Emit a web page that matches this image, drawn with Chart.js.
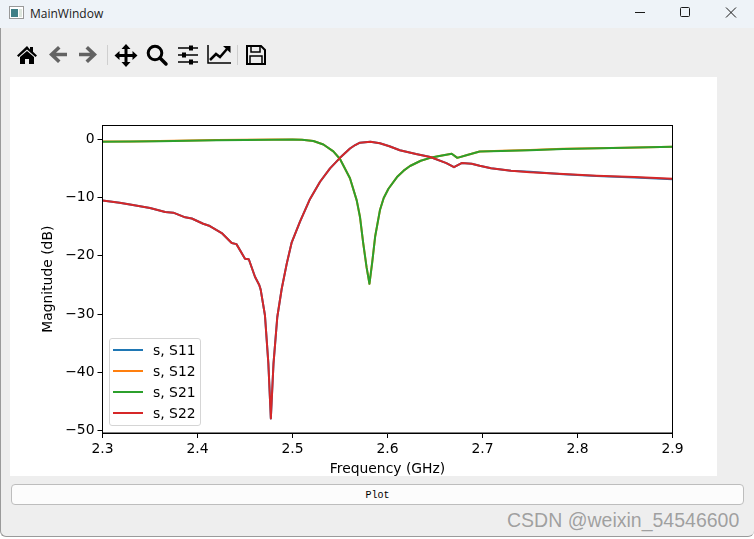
<!DOCTYPE html>
<html>
<head>
<meta charset="utf-8">
<title>MainWindow</title>
<script src="https://cdn.jsdelivr.net/npm/chart.js@4"></script>
<style>
html, body { margin: 0; padding: 0; background: #fff; width: 754px; height: 539px; overflow: hidden; }
#win { position: absolute; left: 0; top: 0; width: 754px; height: 537px; background: #eeeeee; border-left: 1px solid #9a9a9a; border-bottom: 1px solid #9a9a9a; border-radius: 0 0 6px 6px; box-sizing: border-box; }
#bar { position: absolute; left: 0; top: 0; width: 754px; height: 28px; background: #eef3f8; }
#title { position: absolute; left: 30px; top: 5px; font: 12px "Open Sans", sans-serif; color: #1a1a1a; }
#panel { position: absolute; left: 10px; top: 77px; width: 707px; height: 399px; background: #fff; }
#panel canvas { position: absolute; left: 0; top: 0; }
#legend { position: absolute; left: 109px; top: 338px; width: 92px; height: 88px; box-sizing: border-box; border: 1px solid #d5d5d5; border-radius: 3px; background: rgba(255,255,255,.8); font: 13.9px "DejaVu Sans", sans-serif; color: #000; }
#legend div { position: absolute; left: 43px; white-space: nowrap; line-height: 16px; }
#legend i { position: absolute; left: 3px; width: 30px; height: 2px; }
#plot { position: absolute; left: 11px; top: 484px; width: 733px; height: 21px; box-sizing: border-box; background: #fcfcfc; border: 1px solid #bdbdbd; border-radius: 4px; font: 10px "Liberation Mono", monospace; color: #000; text-align: center; line-height: 21px; }
#mark { position: absolute; left: 507px; top: 509px; font: 19.5px "Liberation Sans", sans-serif; color: rgba(125,125,125,.7); white-space: nowrap; }
svg { position: absolute; overflow: visible; }
</style>
</head>
<body>
<div id="win"></div>
<div id="bar"></div>
<svg style="left:9px;top:6px" width="16" height="13"><rect x=".5" y=".5" width="14" height="12" fill="#fff" stroke="#999"/><rect x="2" y="3" width="7" height="8" fill="#3f7f86"/><rect x="10" y="3" width="3" height="8" fill="#dde6dd"/></svg>
<div id="title">MainWindow</div>
<svg style="left:0;top:0" width="754" height="28" fill="none" stroke="#1a1a1a" stroke-width="1"><path d="M635 12.5h10"/><rect x="680.5" y="7.5" width="9" height="9" rx="1"/><path d="M726 7.5l10 10M736 7.5l-10 10"/></svg>

<!-- toolbar -->
<svg style="left:0;top:40px" width="280" height="30">
  <path d="M27 6L17 15.5l1.5 1.5L27 9.500l8.500 7.500 1.500-1.500-4-3.800V7h-3v2.400z" fill="#000"/>
  <path d="M20 17l7-6 7 6v7h-5v-5h-4v5h-5z" fill="#000"/>
  <path d="M58 6l-9 8.500 9 8.500 2.500-2.500-4.500-4.300h11v-3.500H56l4.500-4.200z" fill="#636363"/>
  <path d="M88 6l9 8.500-9 8.500-2.500-2.500 4.500-4.300H79v-3.500h11l-4.500-4.200z" fill="#636363"/>
  <path d="M107.500 5v20" stroke="#cfcfcf"/>
  <path d="M126 4l4.500 5h-3v5h5v-3l5 4.500-5 4.500v-3h-5v5h3L126 27l-4.500-5h3v-5h-5v3l-5-4.500 5-4.500v3h5V9h-3z" fill="#000"/>
  <circle cx="155" cy="13" r="6.800" fill="none" stroke="#000" stroke-width="3"/>
  <path d="M160 18l6 6" stroke="#000" stroke-width="3.500" stroke-linecap="round"/>
  <path d="M178 8h20M178 15h20M178 22h20" stroke="#000" stroke-width="1.500"/>
  <rect x="189" y="5.500" width="4" height="5" fill="#000"/><rect x="182" y="12.500" width="4" height="5" fill="#000"/><rect x="189" y="19.500" width="4" height="5" fill="#000"/>
  <path d="M208 5v18h23" fill="none" stroke="#000" stroke-width="1.500"/>
  <path d="M210 20l6-6 4 3 7-8" fill="none" stroke="#000" stroke-width="2.500"/>
  <path d="M223 6h7.500v7z" fill="#000"/>
  <path d="M237.500 5v20" stroke="#cfcfcf"/>
  <path d="M247 6h14l4 4v14h-18z" fill="none" stroke="#000" stroke-width="2"/>
  <path d="M251 6v6h9V6M250 24v-8h12v8" fill="none" stroke="#000" stroke-width="1.500"/>
</svg>

<div id="panel"><canvas id="chart" width="707" height="399"></canvas></div>
<div id="legend"></div>
<div id="plot">Plot</div>
<div id="mark">CSDN @weixin_54546600</div>

<script>
// reflection curves, dip near 2.48 GHz
const freqRefl = [2.3, 2.318, 2.332, 2.35, 2.366, 2.3745, 2.387, 2.394, 2.406, 2.413, 2.4255, 2.436, 2.441, 2.45, 2.454, 2.4605, 2.465, 2.4665, 2.471, 2.4746, 2.4772, 2.48, 2.484, 2.4886, 2.494, 2.499, 2.508, 2.518, 2.529, 2.5395, 2.55, 2.5605, 2.566, 2.571, 2.582, 2.592, 2.602, 2.613, 2.63, 2.645, 2.662, 2.67, 2.678, 2.6886, 2.697, 2.709, 2.73, 2.75, 2.785, 2.82, 2.86, 2.9]
const s11 = [-10.5, -10.9, -11.3, -11.8, -12.5, -12.6, -13.4, -13.6, -14.5, -14.9, -16.1, -17.8, -18, -20.5, -20.6, -23.6, -25, -25.8, -30.2, -38.5, -47.9, -38.5, -30.5, -25.7, -21.3, -17.8, -14.1, -10.4, -7.3, -5, -3.2, -1.6, -1, -0.6, -0.45, -0.7, -1.2, -1.9, -2.55, -3.05, -4.1, -4.8, -4.1, -4.2, -4.55, -5, -5.4, -5.6, -6, -6.3, -6.55, -6.85]
const s22 = [-10.5, -10.9, -11.3, -11.8, -12.5, -12.6, -13.4, -13.6, -14.5, -14.9, -16.1, -17.8, -18, -20.5, -20.6, -23.6, -25, -25.8, -30.2, -38.5, -47.9, -38.5, -30.5, -25.7, -21.3, -17.8, -14.1, -10.4, -7.3, -5, -3.2, -1.6, -1, -0.6, -0.45, -0.7, -1.2, -1.9, -2.55, -3.05, -4.1, -4.8, -4.1, -4.2, -4.55, -5, -5.4, -5.65, -5.95, -6.25, -6.5, -6.8]

// transmission curves, dip near 2.58 GHz
const freqTrans = [2.3, 2.33, 2.36, 2.39, 2.42, 2.45, 2.48, 2.5, 2.51, 2.522, 2.5325, 2.543, 2.55, 2.5605, 2.5676, 2.571, 2.5745, 2.578, 2.581, 2.584, 2.587, 2.592, 2.596, 2.601, 2.61, 2.617, 2.6237, 2.635, 2.645, 2.656, 2.6676, 2.6735, 2.683, 2.697, 2.72, 2.75, 2.785, 2.85, 2.9]
const s12 = [-0.4, -0.38, -0.3, -0.22, -0.15, -0.08, -0.05, -0.05, -0.1, -0.3, -0.9, -2.1, -3.4, -6.7, -10.5, -13.3, -17.9, -22, -24.8, -21, -16.7, -12.2, -10.1, -8.5, -6.5, -5.4, -4.6, -3.7, -3.2, -2.85, -2.5, -3.2, -2.75, -2.1, -2, -1.85, -1.65, -1.45, -1.3]
const s21 = [-0.45, -0.4, -0.35, -0.25, -0.2, -0.12, -0.08, -0.05, -0.1, -0.3, -0.9, -2.1, -3.4, -6.7, -10.5, -13.3, -17.9, -22, -24.8, -21, -16.7, -12.2, -10.1, -8.5, -6.5, -5.4, -4.6, -3.7, -3.2, -2.85, -2.5, -3.2, -2.75, -2.1, -2.03, -1.9, -1.7, -1.48, -1.3]

const seriesNames = ['s, S11', 's, S12', 's, S21', 's, S22']
const seriesColors = ['#1f77b4', '#ff7f0e', '#2ca02c', '#d62728']
const xTicks = [2.3, 2.4, 2.5, 2.6, 2.7, 2.8, 2.9]

function pairs(xs, ys) {
    return xs.map((x, i) => ({ x: x, y: ys[i] }))
}

const font = { family: '"DejaVu Sans", sans-serif', size: 13.9 }

// matplotlib style closed frame around the axes
const frame = {
    id: 'frame',
    afterDraw(chart) {
        const a = chart.chartArea
        const c = chart.ctx
        c.save()
        c.strokeStyle = '#000'
        c.lineWidth = 1
        c.strokeRect(a.left, a.top, a.right - a.left, a.bottom - a.top)
        c.restore()
    }
}

// order: later series are painted over the earlier ones, as in the original
new Chart(document.getElementById('chart'), {
    type: 'line',
    data: {
        datasets: [
            { label: seriesNames[0], data: pairs(freqRefl, s11), borderColor: seriesColors[0], order: 4 },
            { label: seriesNames[1], data: pairs(freqTrans, s12), borderColor: seriesColors[1], order: 3 },
            { label: seriesNames[2], data: pairs(freqTrans, s21), borderColor: seriesColors[2], order: 2 },
            { label: seriesNames[3], data: pairs(freqRefl, s22), borderColor: seriesColors[3], order: 1 }
        ]
    },
    options: {
        responsive: false,
        animation: false,
        devicePixelRatio: 1,
        layout: { padding: { left: 0, top: 48.5, right: 44.5, bottom: 0 } },
        elements: {
            point: { radius: 0 },
            line: { borderWidth: 2, tension: 0, borderJoinStyle: 'round' }
        },
        plugins: { legend: { display: false }, tooltip: { enabled: false } },
        scales: {
            x: {
                type: 'linear',
                min: 2.3,
                max: 2.9,
                afterFit(scale) { scale.height = 43 },
                afterBuildTicks(scale) { scale.ticks = xTicks.map(v => ({ value: v })) },
                grid: { drawOnChartArea: false, tickColor: '#000', tickLength: 5 },
                border: { color: '#000' },
                ticks: { color: '#000', font: font, maxRotation: 0, autoSkip: false, padding: 3, callback: v => v.toFixed(1) },
                title: { display: true, text: 'Frequency (GHz)', color: '#000', font: font, padding: { top: 4, bottom: -2 } }
            },
            y: {
                min: -50.4,
                max: 2.35,
                afterFit(scale) { scale.width = 92.5 },
                grid: { drawOnChartArea: false, tickColor: '#000', tickLength: 5 },
                border: { color: '#000' },
                ticks: { color: '#000', font: font, stepSize: 10, includeBounds: false, padding: 3, callback: v => String(v).replace('-', '\u2212') },
                title: { display: true, text: 'Magnitude (dB)', color: '#000', font: font, padding: { top: 30, bottom: 8 } }
            }
        }
    },
    plugins: [frame]
})

// legend sits inside the axes, lower left
const legendBox = document.getElementById('legend')
seriesNames.forEach((name, i) => {
    const top = 3 + i * 21
    legendBox.innerHTML += `<i style="top:${top + 7}px;background:${seriesColors[i]}"></i><div style="top:${top}px">${name}</div>`
})
</script>
</body>
</html>
